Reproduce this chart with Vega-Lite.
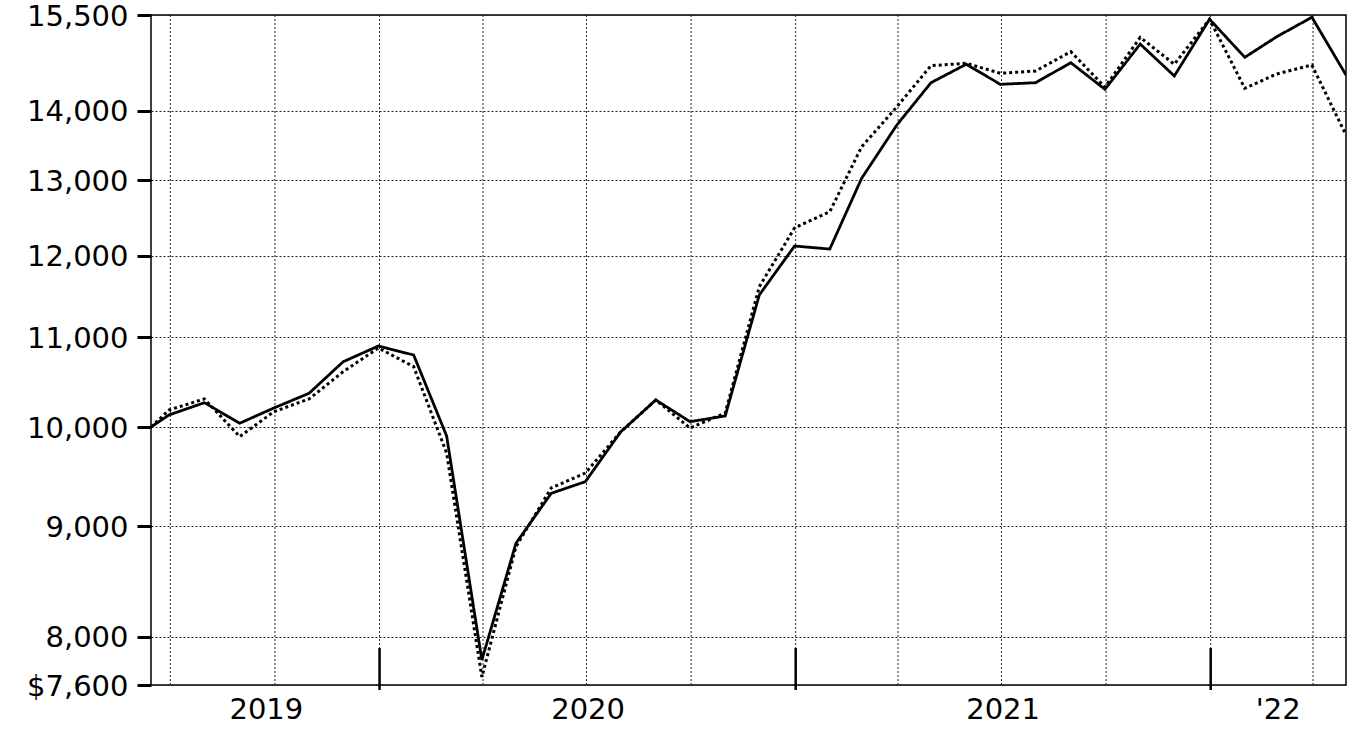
{
  "$schema": "https://vega.github.io/schema/vega-lite/v6.json",
  "description": "Growth of $10,000, fund vs benchmark, log scale",
  "width": 1195,
  "height": 670,
  "autosize": {"type": "none"},
  "padding": {"left": 151, "top": 15, "right": 17, "bottom": 55},
  "background": "white",
  "config": {
    "font": "DejaVu Sans",
    "view": {"stroke": "black", "strokeWidth": 1.5},
    "axis": {"labelColor": "black", "labelFont": "DejaVu Sans", "labelFontSize": 29}
  },
  "datasets": {
    "growth": [
      {"date": "2019-06-14", "series": "Fund", "value": 10000},
      {"date": "2019-06-30", "series": "Fund", "value": 10130},
      {"date": "2019-07-31", "series": "Fund", "value": 10262},
      {"date": "2019-08-31", "series": "Fund", "value": 10040},
      {"date": "2019-09-30", "series": "Fund", "value": 10204},
      {"date": "2019-10-31", "series": "Fund", "value": 10365},
      {"date": "2019-11-30", "series": "Fund", "value": 10719},
      {"date": "2019-12-31", "series": "Fund", "value": 10900},
      {"date": "2020-01-31", "series": "Fund", "value": 10796},
      {"date": "2020-02-29", "series": "Fund", "value": 9905},
      {"date": "2020-03-31", "series": "Fund", "value": 7805},
      {"date": "2020-04-30", "series": "Fund", "value": 8837},
      {"date": "2020-05-31", "series": "Fund", "value": 9319},
      {"date": "2020-06-30", "series": "Fund", "value": 9435},
      {"date": "2020-07-31", "series": "Fund", "value": 9947},
      {"date": "2020-08-31", "series": "Fund", "value": 10292},
      {"date": "2020-09-30", "series": "Fund", "value": 10057},
      {"date": "2020-10-31", "series": "Fund", "value": 10118},
      {"date": "2020-11-30", "series": "Fund", "value": 11508},
      {"date": "2020-12-31", "series": "Fund", "value": 12123},
      {"date": "2021-01-31", "series": "Fund", "value": 12084},
      {"date": "2021-02-28", "series": "Fund", "value": 13028},
      {"date": "2021-03-31", "series": "Fund", "value": 13789},
      {"date": "2021-04-30", "series": "Fund", "value": 14423},
      {"date": "2021-05-31", "series": "Fund", "value": 14709},
      {"date": "2021-06-30", "series": "Fund", "value": 14398},
      {"date": "2021-07-31", "series": "Fund", "value": 14423},
      {"date": "2021-08-31", "series": "Fund", "value": 14733},
      {"date": "2021-09-30", "series": "Fund", "value": 14322},
      {"date": "2021-10-31", "series": "Fund", "value": 15028},
      {"date": "2021-11-30", "series": "Fund", "value": 14527},
      {"date": "2021-12-31", "series": "Fund", "value": 15430},
      {"date": "2022-01-31", "series": "Fund", "value": 14818},
      {"date": "2022-02-28", "series": "Fund", "value": 15145},
      {"date": "2022-03-31", "series": "Fund", "value": 15463},
      {"date": "2022-04-30", "series": "Fund", "value": 14542},
      {"date": "2019-06-14", "series": "Benchmark", "value": 10000},
      {"date": "2019-06-30", "series": "Benchmark", "value": 10183},
      {"date": "2019-07-31", "series": "Benchmark", "value": 10303},
      {"date": "2019-08-31", "series": "Benchmark", "value": 9898},
      {"date": "2019-09-30", "series": "Benchmark", "value": 10164},
      {"date": "2019-10-31", "series": "Benchmark", "value": 10303},
      {"date": "2019-11-30", "series": "Benchmark", "value": 10606},
      {"date": "2019-12-31", "series": "Benchmark", "value": 10877},
      {"date": "2020-01-31", "series": "Benchmark", "value": 10663},
      {"date": "2020-02-29", "series": "Benchmark", "value": 9727},
      {"date": "2020-03-31", "series": "Benchmark", "value": 7665},
      {"date": "2020-04-30", "series": "Benchmark", "value": 8805},
      {"date": "2020-05-31", "series": "Benchmark", "value": 9372},
      {"date": "2020-06-30", "series": "Benchmark", "value": 9522},
      {"date": "2020-07-31", "series": "Benchmark", "value": 9947},
      {"date": "2020-08-31", "series": "Benchmark", "value": 10292},
      {"date": "2020-09-30", "series": "Benchmark", "value": 9989},
      {"date": "2020-10-31", "series": "Benchmark", "value": 10150},
      {"date": "2020-11-30", "series": "Benchmark", "value": 11610},
      {"date": "2020-12-31", "series": "Benchmark", "value": 12358},
      {"date": "2021-01-31", "series": "Benchmark", "value": 12574},
      {"date": "2021-02-28", "series": "Benchmark", "value": 13473},
      {"date": "2021-03-31", "series": "Benchmark", "value": 14059},
      {"date": "2021-04-30", "series": "Benchmark", "value": 14687},
      {"date": "2021-05-31", "series": "Benchmark", "value": 14724},
      {"date": "2021-06-30", "series": "Benchmark", "value": 14568},
      {"date": "2021-07-31", "series": "Benchmark", "value": 14604},
      {"date": "2021-08-31", "series": "Benchmark", "value": 14907},
      {"date": "2021-09-30", "series": "Benchmark", "value": 14356},
      {"date": "2021-10-31", "series": "Benchmark", "value": 15136},
      {"date": "2021-11-30", "series": "Benchmark", "value": 14709},
      {"date": "2021-12-31", "series": "Benchmark", "value": 15430},
      {"date": "2022-01-31", "series": "Benchmark", "value": 14337},
      {"date": "2022-02-28", "series": "Benchmark", "value": 14557},
      {"date": "2022-03-31", "series": "Benchmark", "value": 14697},
      {"date": "2022-04-30", "series": "Benchmark", "value": 13643}
    ],
    "quarters": [
      {"date": "2019-07-01"}, {"date": "2019-10-01"},
      {"date": "2020-01-01"}, {"date": "2020-04-01"}, {"date": "2020-07-01"}, {"date": "2020-10-01"},
      {"date": "2021-01-01"}, {"date": "2021-04-01"}, {"date": "2021-07-01"}, {"date": "2021-10-01"},
      {"date": "2022-01-01"}, {"date": "2022-04-01"}
    ],
    "years": [
      {"date": "2020-01-01"}, {"date": "2021-01-01"}, {"date": "2022-01-01"}
    ]
  },
  "layer": [
    {
      "data": {"name": "quarters"},
      "mark": {"type": "rule", "color": "#222", "strokeWidth": 1, "strokeDash": [2, 2]},
      "encoding": {
        "x": {"field": "date", "type": "temporal"}
      }
    },
    {
      "data": {"name": "growth"},
      "mark": {"type": "line", "color": "black", "clip": true},
      "encoding": {
        "x": {
          "field": "date",
          "type": "temporal",
          "title": null,
          "scale": {
            "type": "utc",
            "nice": false,
            "domain": [
              {"year": 2019, "month": "jun", "date": 14, "utc": true},
              {"year": 2022, "month": "apr", "date": 30, "utc": true}
            ]
          },
          "axis": {
            "values": [
              {"year": 2019, "month": "sep", "date": 23, "utc": true},
              {"year": 2020, "month": "jul", "date": 2, "utc": true},
              {"year": 2021, "month": "jul", "date": 2, "utc": true},
              {"year": 2022, "month": "mar", "date": 1, "utc": true}
            ],
            "labelExpr": "utcFormat(datum.value, '%Y') == '2022' ? \"'22\" : utcFormat(datum.value, '%Y')",
            "domain": false,
            "ticks": false,
            "grid": false,
            "labelPadding": 10,
            "labelFlush": false,
            "labelOverlap": false
          }
        },
        "y": {
          "field": "value",
          "type": "quantitative",
          "title": null,
          "scale": {"type": "log", "domain": [7600, 15500], "nice": false, "zero": false},
          "axis": {
            "values": [7600, 8000, 9000, 10000, 11000, 12000, 13000, 14000, 15500],
            "labelExpr": "datum.value == 7600 ? '$7,600' : format(datum.value, ',')",
            "domain": false,
            "tickSize": 14,
            "tickWidth": 3,
            "tickColor": "black",
            "labelPadding": 9,
            "labelOffset": 1,
            "grid": true,
            "gridColor": "#222",
            "gridDash": [2, 2],
            "gridWidth": 1,
            "labelFlush": false,
            "labelOverlap": false
          }
        },
        "strokeDash": {
          "field": "series",
          "type": "nominal",
          "scale": {"domain": ["Benchmark", "Fund"], "range": [[3, 3], [1, 0]]},
          "legend": null
        },
        "strokeWidth": {
          "field": "series",
          "type": "nominal",
          "scale": {"domain": ["Benchmark", "Fund"], "range": [3, 2.8]},
          "legend": null
        }
      }
    },
    {
      "data": {"name": "years"},
      "mark": {"type": "rule", "color": "black", "strokeWidth": 2.5},
      "encoding": {
        "x": {"field": "date", "type": "temporal"},
        "y": {"datum": 7560},
        "y2": {"datum": 7905}
      }
    }
  ]
}
